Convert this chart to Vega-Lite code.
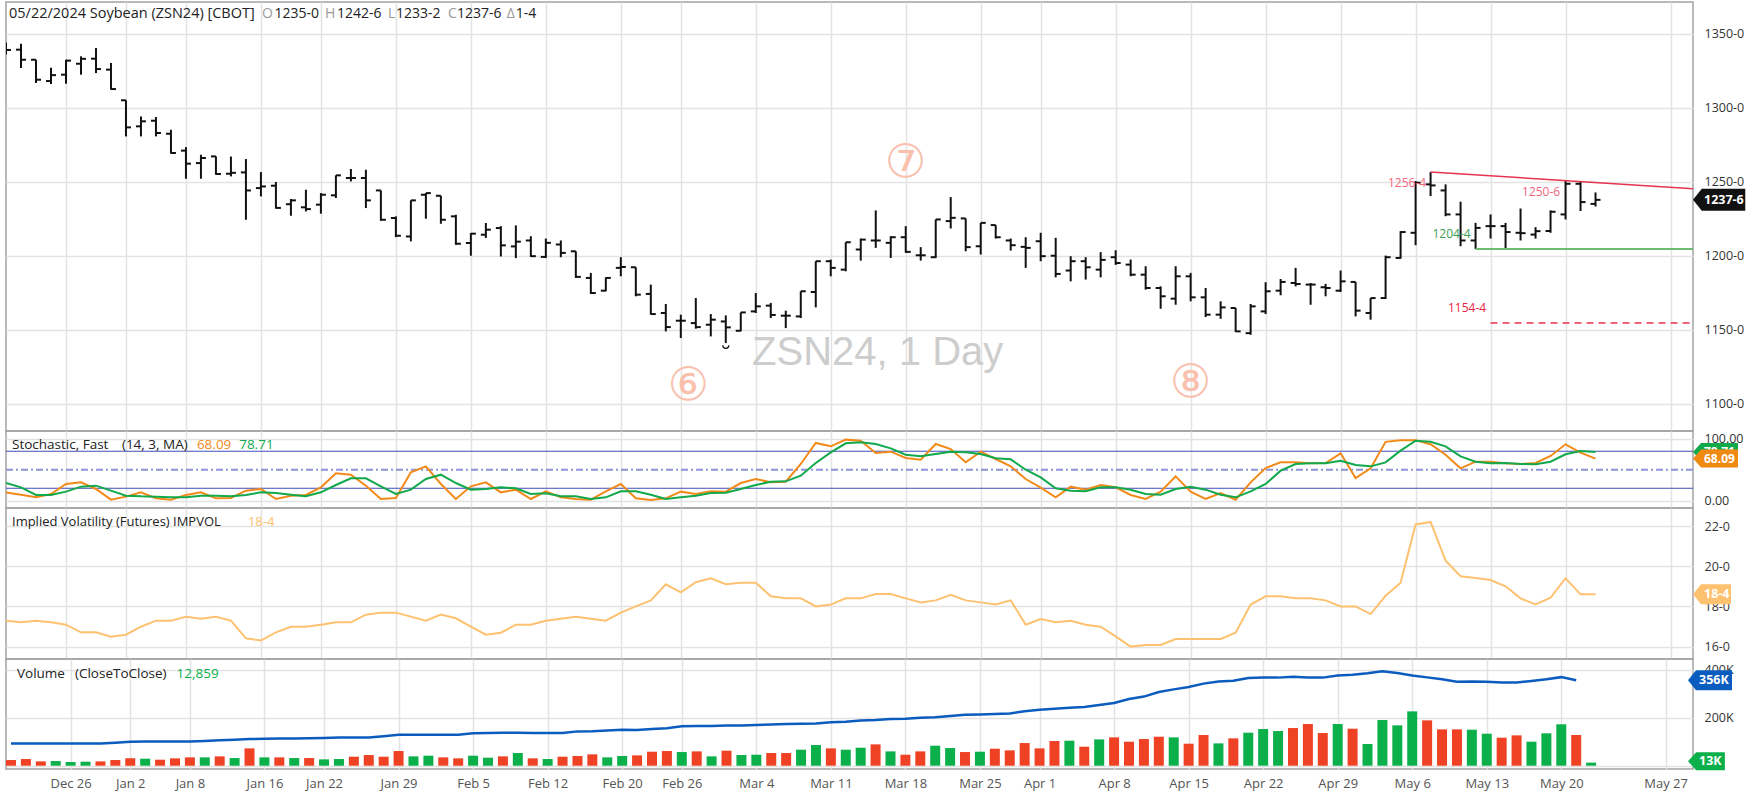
{
"$schema":"https://vega.github.io/schema/vega-lite/v6.json",
"padding":{"left":4,"top":1,"right":0,"bottom":0},
"bounds":"flush",
"spacing":0,
"resolve":{"scale":{"x":"independent","y":"independent"}},
"config":{"view":{"stroke":"#a3a3a3","strokeWidth":1.5},"axis":{"gridColor":"#e3e3e3","gridWidth":1.5,"labelFont":"Open Sans","labelFontSize":12.5,"labelColor":"#333"},"text":{"font":"Open Sans"}},
"data":{"values":[
{"i":0,"date":"2023-12-19","o":1341,"h":1344,"l":1336,"c":1339,"pk":13.3,"pd":28.5,"iv":17.29,"vol":23.6,"oi":93,"dir":"down"},
{"i":1,"date":"2023-12-20","o":1339.2,"h":1343.2,"l":1326.8,"c":1332.4,"pk":9.6,"pd":21.5,"iv":17.21,"vol":27.8,"oi":93,"dir":"down"},
{"i":2,"date":"2023-12-21","o":1332.4,"h":1332.4,"l":1316.7,"c":1318.9,"pk":5.3,"pd":9.1,"iv":17.29,"vol":18,"oi":93,"dir":"down"},
{"i":3,"date":"2023-12-22","o":1318,"h":1327,"l":1316,"c":1322,"pk":10.7,"pd":9.1,"iv":17.21,"vol":19.4,"oi":93,"dir":"up"},
{"i":4,"date":"2023-12-26","o":1322.3,"h":1332.4,"l":1316.2,"c":1331.8,"pk":26.9,"pd":14.5,"iv":17.09,"vol":15.3,"oi":93,"dir":"up"},
{"i":5,"date":"2023-12-27","o":1329.7,"h":1334.7,"l":1322.3,"c":1333,"pk":29.6,"pd":22.6,"iv":16.71,"vol":16.7,"oi":93,"dir":"up"},
{"i":6,"date":"2023-12-28","o":1333.1,"h":1340.3,"l":1323.4,"c":1326.1,"pk":18.8,"pd":24.2,"iv":16.71,"vol":18,"oi":93,"dir":"down"},
{"i":7,"date":"2023-12-29","o":1325.7,"h":1330.2,"l":1312.2,"c":1312.6,"pk":1.5,"pd":16.1,"iv":16.49,"vol":23.6,"oi":96,"dir":"down"},
{"i":8,"date":"2024-01-02","o":1305,"h":1305,"l":1280.6,"c":1286.7,"pk":6.4,"pd":8,"iv":16.59,"vol":30.6,"oi":100,"dir":"down"},
{"i":9,"date":"2024-01-03","o":1287.4,"h":1294.1,"l":1280.6,"c":1290.8,"pk":13.4,"pd":6.9,"iv":16.99,"vol":29.2,"oi":101,"dir":"up"},
{"i":10,"date":"2024-01-04","o":1291.2,"h":1293.7,"l":1280.6,"c":1282.9,"pk":3.7,"pd":6.4,"iv":17.29,"vol":25,"oi":101,"dir":"down"},
{"i":11,"date":"2024-01-05","o":1282.4,"h":1285.1,"l":1269,"c":1269.4,"pk":1.5,"pd":5.3,"iv":17.29,"vol":30.6,"oi":101,"dir":"down"},
{"i":12,"date":"2024-01-08","o":1271,"h":1273.4,"l":1252,"c":1262.2,"pk":9.1,"pd":5.3,"iv":17.49,"vol":34.7,"oi":101,"dir":"down"},
{"i":13,"date":"2024-01-09","o":1262.6,"h":1268.2,"l":1252,"c":1266,"pk":13.4,"pd":8,"iv":17.39,"vol":34.7,"oi":103,"dir":"up"},
{"i":14,"date":"2024-01-10","o":1267.1,"h":1267.1,"l":1254.7,"c":1255.2,"pk":3.7,"pd":8,"iv":17.49,"vol":38.9,"oi":106,"dir":"down"},
{"i":15,"date":"2024-01-11","o":1255.4,"h":1267,"l":1253.6,"c":1256,"pk":4.2,"pd":6.9,"iv":17.29,"vol":31.9,"oi":108,"dir":"up"},
{"i":16,"date":"2024-01-12","o":1256.3,"h":1265.3,"l":1224.3,"c":1244.1,"pk":16.1,"pd":9.1,"iv":16.41,"vol":72.2,"oi":111,"dir":"down"},
{"i":17,"date":"2024-01-16","o":1245.7,"h":1256.5,"l":1240.1,"c":1246.8,"pk":18.8,"pd":13.4,"iv":16.3,"vol":34.7,"oi":112,"dir":"up"},
{"i":18,"date":"2024-01-17","o":1247.3,"h":1249.8,"l":1231.8,"c":1232.3,"pk":2.6,"pd":12.3,"iv":16.71,"vol":34.7,"oi":113,"dir":"down"},
{"i":19,"date":"2024-01-18","o":1234.8,"h":1238.3,"l":1227,"c":1237.4,"pk":8,"pd":9.6,"iv":16.99,"vol":31.9,"oi":113,"dir":"up"},
{"i":20,"date":"2024-01-19","o":1232.7,"h":1244.6,"l":1229.9,"c":1231.5,"pk":9.1,"pd":6.9,"iv":16.99,"vol":31.9,"oi":114,"dir":"down"},
{"i":21,"date":"2024-01-22","o":1234.5,"h":1242.3,"l":1228.4,"c":1241.2,"pk":21.5,"pd":13.4,"iv":17.09,"vol":26.4,"oi":115,"dir":"up"},
{"i":22,"date":"2024-01-23","o":1240.8,"h":1254.3,"l":1239,"c":1254.3,"pk":44.2,"pd":25.3,"iv":17.21,"vol":27.8,"oi":117,"dir":"up"},
{"i":23,"date":"2024-01-24","o":1252.5,"h":1258.6,"l":1250.2,"c":1252.5,"pk":42,"pd":36.1,"iv":17.21,"vol":37.5,"oi":118,"dir":"down"},
{"i":24,"date":"2024-01-25","o":1252.5,"h":1258.1,"l":1232.2,"c":1237.4,"pk":24.2,"pd":36.1,"iv":17.59,"vol":44.4,"oi":118,"dir":"down"},
{"i":25,"date":"2024-01-26","o":1244.1,"h":1244.1,"l":1223.6,"c":1224.3,"pk":2.6,"pd":23.1,"iv":17.69,"vol":37.5,"oi":123,"dir":"down"},
{"i":26,"date":"2024-01-29","o":1225.5,"h":1226.6,"l":1212.6,"c":1213.5,"pk":4.2,"pd":10.7,"iv":17.69,"vol":61.1,"oi":129,"dir":"down"},
{"i":27,"date":"2024-01-30","o":1213,"h":1237.4,"l":1209.7,"c":1237.4,"pk":45.8,"pd":17.7,"iv":17.49,"vol":38.9,"oi":129,"dir":"up"},
{"i":28,"date":"2024-01-31","o":1241.2,"h":1242.3,"l":1225,"c":1242.3,"pk":55.5,"pd":35,"iv":17.29,"vol":41.7,"oi":129,"dir":"up"},
{"i":29,"date":"2024-02-01","o":1240.5,"h":1240.5,"l":1221.6,"c":1224.3,"pk":26.9,"pd":42,"iv":17.59,"vol":34.7,"oi":129,"dir":"down"},
{"i":30,"date":"2024-02-02","o":1226.6,"h":1227.7,"l":1207.4,"c":1208.1,"pk":2.6,"pd":28.5,"iv":17.41,"vol":30.6,"oi":129,"dir":"down"},
{"i":31,"date":"2024-02-05","o":1208.6,"h":1215.3,"l":1200,"c":1214.9,"pk":23.1,"pd":17.7,"iv":16.99,"vol":41.7,"oi":135,"dir":"up"},
{"i":32,"date":"2024-02-06","o":1214.2,"h":1222.1,"l":1212,"c":1217.6,"pk":29.6,"pd":18.8,"iv":16.59,"vol":33.3,"oi":136,"dir":"up"},
{"i":33,"date":"2024-02-07","o":1218.7,"h":1220,"l":1199.5,"c":1207,"pk":13.4,"pd":21.5,"iv":16.69,"vol":38.9,"oi":137,"dir":"down"},
{"i":34,"date":"2024-02-08","o":1206.3,"h":1220.5,"l":1198.4,"c":1209.5,"pk":17.7,"pd":19.9,"iv":17.09,"vol":52.8,"oi":137,"dir":"up"},
{"i":35,"date":"2024-02-09","o":1210.3,"h":1213.2,"l":1199.2,"c":1199.7,"pk":2.6,"pd":10.6,"iv":17.09,"vol":30.6,"oi":136,"dir":"down"},
{"i":36,"date":"2024-02-12","o":1199.2,"h":1211.6,"l":1198.5,"c":1208.7,"pk":15,"pd":11.8,"iv":17.29,"vol":27.8,"oi":136,"dir":"up"},
{"i":37,"date":"2024-02-13","o":1207.6,"h":1210.3,"l":1199,"c":1201.9,"pk":5.3,"pd":6.9,"iv":17.39,"vol":37.5,"oi":136,"dir":"down"},
{"i":38,"date":"2024-02-14","o":1203,"h":1203,"l":1185,"c":1185.7,"pk":2.6,"pd":6.9,"iv":17.49,"vol":40.3,"oi":143,"dir":"down"},
{"i":39,"date":"2024-02-15","o":1185,"h":1188.4,"l":1174.2,"c":1174.8,"pk":1.5,"pd":2.6,"iv":17.39,"vol":47.2,"oi":144,"dir":"down"},
{"i":40,"date":"2024-02-16","o":1176.4,"h":1185.4,"l":1176,"c":1185,"pk":15,"pd":5.3,"iv":17.29,"vol":34.7,"oi":147,"dir":"up"},
{"i":41,"date":"2024-02-20","o":1191.8,"h":1199,"l":1186.1,"c":1192.4,"pk":26.9,"pd":15,"iv":17.69,"vol":40.3,"oi":150,"dir":"up"},
{"i":42,"date":"2024-02-21","o":1192.2,"h":1192.2,"l":1172.6,"c":1173.7,"pk":3.7,"pd":15,"iv":18,"vol":43.1,"oi":149,"dir":"down"},
{"i":43,"date":"2024-02-22","o":1174.2,"h":1180.5,"l":1160.2,"c":1160.6,"pk":1,"pd":9.6,"iv":18.3,"vol":58.3,"oi":153,"dir":"down"},
{"i":44,"date":"2024-02-23","o":1161.3,"h":1167.4,"l":1148.9,"c":1151.8,"pk":3.7,"pd":2.6,"iv":19.1,"vol":61.1,"oi":156,"dir":"down"},
{"i":45,"date":"2024-02-26","o":1156.1,"h":1160.2,"l":1144.4,"c":1156.1,"pk":14.5,"pd":5.3,"iv":18.7,"vol":56.9,"oi":164,"dir":"up"},
{"i":46,"date":"2024-02-27","o":1154.5,"h":1171.4,"l":1150.7,"c":1151.8,"pk":10.7,"pd":8,"iv":19.2,"vol":59.7,"oi":165,"dir":"down"},
{"i":47,"date":"2024-02-28","o":1153.4,"h":1160.6,"l":1145.5,"c":1156.8,"pk":15,"pd":12.3,"iv":19.4,"vol":38.9,"oi":165,"dir":"up"},
{"i":48,"date":"2024-02-29","o":1155.6,"h":1159.7,"l":1141,"c":1151.6,"pk":14.5,"pd":12.9,"iv":19.1,"vol":62.5,"oi":167,"dir":"down"},
{"i":49,"date":"2024-03-01","o":1149.3,"h":1161.7,"l":1149,"c":1161.7,"pk":28.5,"pd":18.8,"iv":19.18,"vol":44.4,"oi":168,"dir":"up"},
{"i":50,"date":"2024-03-04","o":1162.4,"h":1174.8,"l":1161.3,"c":1165.8,"pk":35,"pd":25.3,"iv":19.18,"vol":45.8,"oi":170,"dir":"up"},
{"i":51,"date":"2024-03-05","o":1166.3,"h":1168.1,"l":1157.9,"c":1160,"pk":29.6,"pd":30.7,"iv":18.5,"vol":52.8,"oi":172,"dir":"down"},
{"i":52,"date":"2024-03-06","o":1159.5,"h":1162.9,"l":1151.1,"c":1159.5,"pk":30.7,"pd":31.2,"iv":18.4,"vol":52.8,"oi":174,"dir":"down"},
{"i":53,"date":"2024-03-07","o":1159,"h":1176,"l":1157.9,"c":1176,"pk":59.3,"pd":40.4,"iv":18.4,"vol":66.7,"oi":175,"dir":"up"},
{"i":54,"date":"2024-03-08","o":1175.5,"h":1196.3,"l":1165.1,"c":1196.3,"pk":93.4,"pd":60.9,"iv":18,"vol":86.1,"oi":176,"dir":"up"},
{"i":55,"date":"2024-03-11","o":1196.3,"h":1197.4,"l":1186.1,"c":1191.8,"pk":88,"pd":78.2,"iv":18.09,"vol":72.2,"oi":181,"dir":"down"},
{"i":56,"date":"2024-03-12","o":1190.6,"h":1209.1,"l":1189.5,"c":1209.1,"pk":98.8,"pd":92.8,"iv":18.4,"vol":66.7,"oi":183,"dir":"up"},
{"i":57,"date":"2024-03-13","o":1204.2,"h":1211.6,"l":1196.7,"c":1210.9,"pk":97.1,"pd":94.4,"iv":18.4,"vol":75,"oi":188,"dir":"up"},
{"i":58,"date":"2024-03-14","o":1210.3,"h":1230.6,"l":1205.3,"c":1210.3,"pk":77.1,"pd":91.7,"iv":18.62,"vol":88.9,"oi":190,"dir":"down"},
{"i":59,"date":"2024-03-15","o":1208.7,"h":1213.2,"l":1198.5,"c":1212.5,"pk":79.3,"pd":84.7,"iv":18.62,"vol":59.7,"oi":195,"dir":"up"},
{"i":60,"date":"2024-03-18","o":1212.5,"h":1220,"l":1202,"c":1202.6,"pk":69,"pd":74.4,"iv":18.4,"vol":45.8,"oi":196,"dir":"down"},
{"i":61,"date":"2024-03-19","o":1200.3,"h":1205.8,"l":1196.7,"c":1200.3,"pk":66.3,"pd":71.7,"iv":18.2,"vol":59.7,"oi":200,"dir":"down"},
{"i":62,"date":"2024-03-20","o":1199,"h":1224.5,"l":1198.5,"c":1224.5,"pk":91.7,"pd":75.5,"iv":18.3,"vol":83.3,"oi":202,"dir":"up"},
{"i":63,"date":"2024-03-21","o":1223.4,"h":1239.6,"l":1218.4,"c":1225.6,"pk":83.6,"pd":79.3,"iv":18.58,"vol":73.6,"oi":207,"dir":"up"},
{"i":64,"date":"2024-03-22","o":1225.2,"h":1225.2,"l":1203,"c":1205.8,"pk":62,"pd":78.2,"iv":18.3,"vol":56.9,"oi":212,"dir":"down"},
{"i":65,"date":"2024-03-25","o":1206.4,"h":1222.2,"l":1200.8,"c":1222.2,"pk":79.3,"pd":75.5,"iv":18.2,"vol":58.3,"oi":213,"dir":"up"},
{"i":66,"date":"2024-03-26","o":1220.7,"h":1220.7,"l":1211.6,"c":1212.5,"pk":67.4,"pd":68.5,"iv":18.1,"vol":70.8,"oi":215,"dir":"down"},
{"i":67,"date":"2024-03-27","o":1210.3,"h":1211.6,"l":1203.5,"c":1207.1,"pk":55.5,"pd":66.9,"iv":18.3,"vol":63.9,"oi":218,"dir":"down"},
{"i":68,"date":"2024-03-28","o":1206,"h":1212.5,"l":1191.8,"c":1205.3,"pk":35,"pd":50,"iv":17.09,"vol":94.4,"oi":227,"dir":"down"},
{"i":69,"date":"2024-04-01","o":1209.8,"h":1215.5,"l":1196.3,"c":1199.7,"pk":20.9,"pd":37.7,"iv":17.37,"vol":72.2,"oi":233,"dir":"down"},
{"i":70,"date":"2024-04-02","o":1200,"h":1212.1,"l":1185.4,"c":1187.7,"pk":5.3,"pd":19.9,"iv":17.21,"vol":102.8,"oi":237,"dir":"down"},
{"i":71,"date":"2024-04-03","o":1190,"h":1199.7,"l":1182.7,"c":1196.3,"pk":22.6,"pd":16.1,"iv":17.29,"vol":104.2,"oi":241,"dir":"up"},
{"i":72,"date":"2024-04-04","o":1196.3,"h":1199,"l":1183.9,"c":1192.2,"pk":17.7,"pd":15,"iv":17.09,"vol":79.2,"oi":245,"dir":"down"},
{"i":73,"date":"2024-04-05","o":1190.6,"h":1202.4,"l":1185.4,"c":1197.2,"pk":25.3,"pd":21.5,"iv":16.99,"vol":109.7,"oi":253,"dir":"up"},
{"i":74,"date":"2024-04-08","o":1199,"h":1203.7,"l":1193.8,"c":1195.1,"pk":21.5,"pd":21.5,"iv":16.51,"vol":118.1,"oi":261,"dir":"down"},
{"i":75,"date":"2024-04-09","o":1194,"h":1197.4,"l":1186.1,"c":1187.2,"pk":9.1,"pd":17.7,"iv":16,"vol":100,"oi":278,"dir":"down"},
{"i":76,"date":"2024-04-10","o":1187.2,"h":1192.9,"l":1177.1,"c":1178.2,"pk":2.6,"pd":10.7,"iv":16.08,"vol":111.1,"oi":288,"dir":"down"},
{"i":77,"date":"2024-04-11","o":1178.2,"h":1179.3,"l":1164.2,"c":1172.6,"pk":14.5,"pd":9.6,"iv":16.08,"vol":120.8,"oi":307,"dir":"down"},
{"i":78,"date":"2024-04-12","o":1171,"h":1192.9,"l":1166.9,"c":1186.1,"pk":39.3,"pd":18.8,"iv":16.38,"vol":118.1,"oi":318,"dir":"up"},
{"i":79,"date":"2024-04-15","o":1186.1,"h":1188.4,"l":1169.2,"c":1171.9,"pk":14.5,"pd":22.6,"iv":16.38,"vol":91.7,"oi":328,"dir":"down"},
{"i":80,"date":"2024-04-16","o":1171.9,"h":1178.2,"l":1158.6,"c":1160.2,"pk":2.6,"pd":17.7,"iv":16.38,"vol":127.8,"oi":342,"dir":"down"},
{"i":81,"date":"2024-04-17","o":1160.2,"h":1169.2,"l":1157.4,"c":1165.1,"pk":12.3,"pd":9.6,"iv":16.38,"vol":93.1,"oi":351,"dir":"up"},
{"i":82,"date":"2024-04-18","o":1164.7,"h":1164.7,"l":1148.5,"c":1148.9,"pk":1.5,"pd":5.3,"iv":16.69,"vol":113.9,"oi":354,"dir":"down"},
{"i":83,"date":"2024-04-19","o":1147.7,"h":1167.4,"l":1146.6,"c":1165.8,"pk":29.6,"pd":15,"iv":18.09,"vol":137.5,"oi":365,"dir":"up"},
{"i":84,"date":"2024-04-22","o":1162.4,"h":1182.1,"l":1160.6,"c":1176,"pk":52.8,"pd":26.9,"iv":18.5,"vol":152.8,"oi":368,"dir":"up"},
{"i":85,"date":"2024-04-23","o":1176.4,"h":1184.3,"l":1173.3,"c":1182.3,"pk":62,"pd":48.5,"iv":18.5,"vol":144.4,"oi":367,"dir":"up"},
{"i":86,"date":"2024-04-24","o":1181.6,"h":1191.8,"l":1179.3,"c":1180.9,"pk":62,"pd":59.3,"iv":18.4,"vol":156.9,"oi":371,"dir":"down"},
{"i":87,"date":"2024-04-25","o":1180.5,"h":1181.6,"l":1166.9,"c":1180.5,"pk":60.4,"pd":60.4,"iv":18.4,"vol":173.6,"oi":368,"dir":"down"},
{"i":88,"date":"2024-04-26","o":1178.7,"h":1181,"l":1172.6,"c":1178.2,"pk":60.9,"pd":60.4,"iv":18.3,"vol":136.1,"oi":367,"dir":"down"},
{"i":89,"date":"2024-04-29","o":1176.4,"h":1190,"l":1175.5,"c":1182.7,"pk":76.6,"pd":64.7,"iv":18,"vol":173.6,"oi":376,"dir":"up"},
{"i":90,"date":"2024-04-30","o":1182.3,"h":1182.3,"l":1159,"c":1162.9,"pk":36.6,"pd":57.7,"iv":18,"vol":154.2,"oi":379,"dir":"down"},
{"i":91,"date":"2024-05-01","o":1161.3,"h":1171.4,"l":1156.8,"c":1171.4,"pk":52.3,"pd":55.5,"iv":17.62,"vol":90.3,"oi":385,"dir":"up"},
{"i":92,"date":"2024-05-02","o":1171.4,"h":1200.1,"l":1170.8,"c":1199,"pk":95.2,"pd":62,"iv":18.53,"vol":190.3,"oi":394,"dir":"up"},
{"i":93,"date":"2024-05-03","o":1198.5,"h":1216.6,"l":1198,"c":1216,"pk":97.9,"pd":80.9,"iv":19.18,"vol":168.1,"oi":386,"dir":"up"},
{"i":94,"date":"2024-05-06","o":1215.5,"h":1250.5,"l":1207.1,"c":1249.3,"pk":97.9,"pd":97.1,"iv":22.08,"vol":226.4,"oi":376,"dir":"up"},
{"i":95,"date":"2024-05-07","o":1248.2,"h":1256.5,"l":1240.3,"c":1247.5,"pk":91.4,"pd":95.5,"iv":22.2,"vol":188.9,"oi":368,"dir":"down"},
{"i":96,"date":"2024-05-08","o":1244.1,"h":1248.2,"l":1226.7,"c":1227.9,"pk":74.4,"pd":87.9,"iv":20.28,"vol":151.4,"oi":360,"dir":"down"},
{"i":97,"date":"2024-05-09","o":1227.9,"h":1236.5,"l":1206.4,"c":1210.3,"pk":52.3,"pd":71.7,"iv":19.5,"vol":151.4,"oi":350,"dir":"down"},
{"i":98,"date":"2024-05-10","o":1210.3,"h":1222.2,"l":1204.5,"c":1218.8,"pk":63.1,"pd":63.1,"iv":19.41,"vol":150,"oi":351,"dir":"up"},
{"i":99,"date":"2024-05-13","o":1220,"h":1227.9,"l":1211.6,"c":1220,"pk":63.1,"pd":60.4,"iv":19.31,"vol":133.3,"oi":350,"dir":"up"},
{"i":100,"date":"2024-05-14","o":1220,"h":1222.2,"l":1204.5,"c":1216,"pk":60.4,"pd":60.9,"iv":19,"vol":116.7,"oi":347,"dir":"down"},
{"i":101,"date":"2024-05-15","o":1215.5,"h":1231.9,"l":1210.3,"c":1215.25,"pk":59.3,"pd":59.3,"iv":18.4,"vol":126.4,"oi":347,"dir":"down"},
{"i":102,"date":"2024-05-16","o":1214.3,"h":1219.3,"l":1211.6,"c":1216.6,"pk":61,"pd":59,"iv":18.1,"vol":100,"oi":353,"dir":"up"},
{"i":103,"date":"2024-05-17","o":1216.7,"h":1230.6,"l":1215.5,"c":1229.7,"pk":72.3,"pd":63.1,"iv":18.43,"vol":135,"oi":360,"dir":"up"},
{"i":104,"date":"2024-05-20","o":1227.9,"h":1250.75,"l":1224.5,"c":1248.6,"pk":91.2,"pd":75,"iv":19.4,"vol":172.5,"oi":369,"dir":"up"},
{"i":105,"date":"2024-05-21","o":1248.6,"h":1250,"l":1230.2,"c":1236.25,"pk":77.7,"pd":80.4,"iv":18.6,"vol":127.9,"oi":356,"dir":"down"},
{"i":106,"date":"2024-05-22","o":1235,"h":1242.75,"l":1233.25,"c":1237.75,"pk":68.09,"pd":78.71,"iv":18.6,"vol":12.859,"oi":null,"dir":"up"}
]},
"vconcat":[
{"width":1687,"height":429,
 "layer":[
  {"mark":{"type":"rule","color":"#111","strokeWidth":2,"clip":true},
   "encoding":{"x":{"field":"i","type":"quantitative","title":null,"scale":{"domain":[0,112.5],"nice":false,"zero":false},"axis":{"values":[4,8,12,17,21,26,31,36,41,45,50,55,60,65,69,74,79,84,89,94,99,104,111],"labels":false,"ticks":false,"domain":false,"grid":true,"title":null}},
    "y":{"field":"l","type":"quantitative","title":null,"scale":{"domain":[1081.6,1371.4],"nice":false,"zero":false},"axis":{"orient":"right","values":[1100,1150,1200,1250,1300,1350],"labelExpr":"datum.value + '-0'","ticks":false,"domain":false,"grid":true,"title":null,"labelPadding":11}},
    "y2":{"field":"h"}}},
  {"mark":{"type":"point","shape":"M-1,0L0,0","size":100,"filled":false,"color":"#111","strokeWidth":2,"opacity":1,"clip":true},
   "encoding":{"x":{"field":"i","type":"quantitative","title":null},"y":{"field":"o","type":"quantitative","title":null}}},
  {"mark":{"type":"point","shape":"M0,0L1,0","size":100,"filled":false,"color":"#111","strokeWidth":2,"opacity":1,"clip":true},
   "encoding":{"x":{"field":"i","type":"quantitative","title":null},"y":{"field":"c","type":"quantitative","title":null}}},
  {"data":{"values":[{}]},"mark":{"type":"point","shape":"M-1,0A1,1,0,0,0,1,0","size":36,"filled":false,"color":"#111","strokeWidth":1.3,"opacity":1},
   "encoding":{"x":{"datum":48},"y":{"datum":1139.5}}},
  {"data":{"values":[{}]},"mark":{"type":"rule","color":"#e8334f","strokeWidth":1.5},
   "encoding":{"x":{"datum":95},"x2":{"datum":112.5},"y":{"datum":1256.5},"y2":{"datum":1245.3}}},
  {"data":{"values":[{}]},"mark":{"type":"rule","color":"#6dbb73","strokeWidth":2},
   "encoding":{"x":{"datum":98},"x2":{"datum":112.5},"y":{"datum":1204.5}}},
  {"data":{"values":[{}]},"mark":{"type":"rule","color":"#e8334f","strokeWidth":1.5,"strokeDash":[7,5]},
   "encoding":{"x":{"datum":99},"x2":{"datum":112.5},"y":{"datum":1154.5}}},
  {"data":{"values":[{}]},"mark":{"type":"text","text":"1256-4","color":"#f2667e","fontSize":12,"align":"center","baseline":"middle"},
   "encoding":{"x":{"datum":93.43},"y":{"datum":1248.9}}},
  {"data":{"values":[{}]},"mark":{"type":"text","text":"1250-6","color":"#f2667e","fontSize":12,"align":"center","baseline":"middle"},
   "encoding":{"x":{"datum":102.37},"y":{"datum":1243.2}}},
  {"data":{"values":[{}]},"mark":{"type":"text","text":"1204-4","color":"#3d9e4f","fontSize":12,"align":"center","baseline":"middle"},
   "encoding":{"x":{"datum":96.4},"y":{"datum":1214.5}}},
  {"data":{"values":[{}]},"mark":{"type":"text","text":"1154-4","color":"#e8233f","fontSize":12,"align":"center","baseline":"middle"},
   "encoding":{"x":{"datum":97.43},"y":{"datum":1164.5}}},
  {"data":{"values":[{}]},"mark":{"type":"text","text":"⑥","font":"DejaVu Sans","color":"#f9c0ad","fontSize":46,"align":"center","baseline":"middle"},
   "encoding":{"x":{"datum":45.5},"y":{"datum":1112}}},
  {"data":{"values":[{}]},"mark":{"type":"text","text":"⑦","font":"DejaVu Sans","color":"#f9c0ad","fontSize":46,"align":"center","baseline":"middle"},
   "encoding":{"x":{"datum":60},"y":{"datum":1262.9}}},
  {"data":{"values":[{}]},"mark":{"type":"text","text":"⑧","font":"DejaVu Sans","color":"#f9c0ad","fontSize":46,"align":"center","baseline":"middle"},
   "encoding":{"x":{"datum":79},"y":{"datum":1114}}},
  {"data":{"values":[{}]},"mark":{"type":"text","text":"ZSN24, 1 Day","font":"Liberation Sans","color":"#cdcdcd","fontSize":40,"align":"center","baseline":"middle"},
   "encoding":{"x":{"datum":58.13},"y":{"datum":1134.3}}},
  {"data":{"values":[{}]},"mark":{"type":"text","text":"05/22/2024 Soybean (ZSN24) [CBOT]","color":"#222","fontSize":14.5,"align":"left","baseline":"middle"},
   "encoding":{"x":{"datum":0.2},"y":{"datum":1363.3}}},
  {"data":{"values":[{}]},"mark":{"type":"text","text":"O","color":"#9a9a9a","fontSize":14,"align":"left","baseline":"middle"},
   "encoding":{"x":{"datum":17.07},"y":{"datum":1363.3}}},
  {"data":{"values":[{}]},"mark":{"type":"text","text":"1235-0","color":"#222","fontSize":14,"align":"left","baseline":"middle"},
   "encoding":{"x":{"datum":17.9},"y":{"datum":1363.3}}},
  {"data":{"values":[{}]},"mark":{"type":"text","text":"H","color":"#9a9a9a","fontSize":14,"align":"left","baseline":"middle"},
   "encoding":{"x":{"datum":21.27},"y":{"datum":1363.3}}},
  {"data":{"values":[{}]},"mark":{"type":"text","text":"1242-6","color":"#222","fontSize":14,"align":"left","baseline":"middle"},
   "encoding":{"x":{"datum":22.07},"y":{"datum":1363.3}}},
  {"data":{"values":[{}]},"mark":{"type":"text","text":"L","color":"#9a9a9a","fontSize":14,"align":"left","baseline":"middle"},
   "encoding":{"x":{"datum":25.47},"y":{"datum":1363.3}}},
  {"data":{"values":[{}]},"mark":{"type":"text","text":"1233-2","color":"#222","fontSize":14,"align":"left","baseline":"middle"},
   "encoding":{"x":{"datum":26.0},"y":{"datum":1363.3}}},
  {"data":{"values":[{}]},"mark":{"type":"text","text":"C","color":"#9a9a9a","fontSize":14,"align":"left","baseline":"middle"},
   "encoding":{"x":{"datum":29.47},"y":{"datum":1363.3}}},
  {"data":{"values":[{}]},"mark":{"type":"text","text":"1237-6","color":"#222","fontSize":14,"align":"left","baseline":"middle"},
   "encoding":{"x":{"datum":30.07},"y":{"datum":1363.3}}},
  {"data":{"values":[{}]},"mark":{"type":"text","text":"Δ","color":"#9a9a9a","fontSize":14,"align":"left","baseline":"middle"},
   "encoding":{"x":{"datum":33.4},"y":{"datum":1363.3}}},
  {"data":{"values":[{}]},"mark":{"type":"text","text":"1-4","color":"#222","fontSize":14,"align":"left","baseline":"middle"},
   "encoding":{"x":{"datum":34.0},"y":{"datum":1363.3}}},
  {"data":{"values":[{}]},"mark":{"type":"point","shape":"M0,0L0.8,-1L4.75,-1L4.75,1L0.8,1Z","size":484,"filled":true,"color":"#111","opacity":1,"strokeWidth":0},
   "encoding":{"x":{"datum":112.5},"y":{"datum":1237.75}}},
  {"data":{"values":[{}]},"mark":{"type":"text","text":"1237-6","color":"#ffffff","fontWeight":"bold","fontSize":12.5,"align":"left","baseline":"middle","dx":11},
   "encoding":{"x":{"datum":112.5},"y":{"datum":1237.75}}}
 ]},
{"width":1687,"height":77,
 "layer":[
  {"data":{"values":[{}]},"mark":{"type":"rule","color":"#3f4fb8","strokeWidth":1},"encoding":{"y":{"datum":80}}},
  {"data":{"values":[{}]},"mark":{"type":"rule","color":"#3f4fb8","strokeWidth":1},"encoding":{"y":{"datum":20}}},
  {"data":{"values":[{}]},"mark":{"type":"rule","color":"#8b93d4","strokeWidth":2,"strokeDash":[7,3,2,3]},"encoding":{"y":{"datum":50}}},
  {"mark":{"type":"line","color":"#f28a1a","strokeWidth":2,"clip":true},
   "encoding":{"x":{"field":"i","type":"quantitative","title":null,"scale":{"domain":[0,112.5],"nice":false,"zero":false},"axis":{"values":[4,8,12,17,21,26,31,36,41,45,50,55,60,65,69,74,79,84,89,94,99,104,111],"labels":false,"ticks":false,"domain":false,"grid":true,"title":null}},
    "y":{"field":"pk","type":"quantitative","title":null,"scale":{"domain":[-12,112.8],"nice":false,"zero":false},"axis":{"orient":"right","values":[0,50,100],"format":".2f","ticks":false,"domain":false,"grid":true,"title":null,"labelPadding":11}}}},
  {"mark":{"type":"line","color":"#12a84c","strokeWidth":2,"clip":true},
   "encoding":{"x":{"field":"i","type":"quantitative","title":null},"y":{"field":"pd","type":"quantitative","title":null}}},
  {"data":{"values":[{}]},"mark":{"type":"text","text":"Stochastic, Fast","color":"#222","fontSize":13.5,"align":"left","baseline":"middle"},
   "encoding":{"x":{"datum":0.4},"y":{"datum":90.6}}},
  {"data":{"values":[{}]},"mark":{"type":"text","text":"(14, 3, MA)","color":"#222","fontSize":13.5,"align":"left","baseline":"middle"},
   "encoding":{"x":{"datum":7.73},"y":{"datum":90.6}}},
  {"data":{"values":[{}]},"mark":{"type":"text","text":"68.09","color":"#f28a1a","fontSize":13.5,"align":"left","baseline":"middle"},
   "encoding":{"x":{"datum":12.73},"y":{"datum":90.6}}},
  {"data":{"values":[{}]},"mark":{"type":"text","text":"78.71","color":"#12a84c","fontSize":13.5,"align":"left","baseline":"middle"},
   "encoding":{"x":{"datum":15.55},"y":{"datum":90.6}}},
  {"data":{"values":[{}]},"mark":{"type":"point","shape":"M0,0L0.9,-1L5,-1L5,1L0.9,1Z","size":324,"filled":true,"color":"#12a84c","opacity":1,"strokeWidth":0},
   "encoding":{"x":{"datum":112.5},"y":{"datum":78.71}}},
  {"data":{"values":[{}]},"mark":{"type":"text","text":"78.71","color":"#ffffff","fontWeight":"bold","fontSize":12,"align":"left","baseline":"middle","dx":11},
   "encoding":{"x":{"datum":112.5},"y":{"datum":78.71}}},
  {"data":{"values":[{}]},"mark":{"type":"point","shape":"M0,0L0.9,-1L5,-1L5,1L0.9,1Z","size":324,"filled":true,"color":"#f08a12","opacity":1,"strokeWidth":0},
   "encoding":{"x":{"datum":112.5},"y":{"datum":68.09}}},
  {"data":{"values":[{}]},"mark":{"type":"text","text":"68.09","color":"#ffffff","fontWeight":"bold","fontSize":12,"align":"left","baseline":"middle","dx":11},
   "encoding":{"x":{"datum":112.5},"y":{"datum":68.09}}}
 ]},
{"width":1687,"height":151,
 "layer":[
  {"mark":{"type":"line","color":"#fec170","strokeWidth":2,"clip":true},
   "encoding":{"x":{"field":"i","type":"quantitative","title":null,"scale":{"domain":[0,112.5],"nice":false,"zero":false},"axis":{"values":[4,8,12,17,21,26,31,36,41,45,50,55,60,65,69,74,79,84,89,94,99,104,111],"labels":false,"ticks":false,"domain":false,"grid":true,"title":null}},
    "y":{"field":"iv","type":"quantitative","title":null,"scale":{"domain":[15.383,22.896],"nice":false,"zero":false},"axis":{"orient":"right","values":[16,18,20,22],"labelExpr":"datum.value + '-0'","ticks":false,"domain":false,"grid":true,"title":null,"labelPadding":11}}}},
  {"data":{"values":[{}]},"mark":{"type":"text","text":"Implied Volatility (Futures) IMPVOL","color":"#222","fontSize":13,"align":"left","baseline":"middle"},
   "encoding":{"x":{"datum":0.4},"y":{"datum":22.21}}},
  {"data":{"values":[{}]},"mark":{"type":"text","text":"18-4","color":"#fec170","fontSize":13,"align":"left","baseline":"middle"},
   "encoding":{"x":{"datum":16.13},"y":{"datum":22.21}}},
  {"data":{"values":[{}]},"mark":{"type":"point","shape":"M0,0L0.8,-1L3.8,-1L3.8,1L0.8,1Z","size":400,"filled":true,"color":"#fec170","opacity":1,"strokeWidth":0},
   "encoding":{"x":{"datum":112.5},"y":{"datum":18.6}}},
  {"data":{"values":[{}]},"mark":{"type":"text","text":"18-4","color":"#ffffff","fontWeight":"bold","fontSize":12.5,"align":"left","baseline":"middle","dx":11},
   "encoding":{"x":{"datum":112.5},"y":{"datum":18.6}}}
 ]},
{"width":1687,"height":110,
 "layer":[
  {"mark":{"type":"bar","size":10,"clip":true,"orient":"vertical"},
   "encoding":{"x":{"field":"i","type":"quantitative","title":null,"scale":{"domain":[0,112.5],"nice":false,"zero":false},"axis":{"values":[4,8,12,17,21,26,31,36,41,45,50,55,60,65,69,74,79,84,89,94,99,104,111],"labels":true,"labelExpr":"['Dec 26','Jan 2','Jan 8','Jan 16','Jan 22','Jan 29','Feb 5','Feb 12','Feb 20','Feb 26','Mar 4','Mar 11','Mar 18','Mar 25','Apr 1','Apr 8','Apr 15','Apr 22','Apr 29','May 6','May 13','May 20','May 27'][indexof([4,8,12,17,21,26,31,36,41,45,50,55,60,65,69,74,79,84,89,94,99,104,111], datum.value)]","labelColor":"#555","labelFontSize":13,"labelPadding":8,"labelFlush":false,"labelOverlap":false,"ticks":false,"domain":false,"grid":true,"title":null}},
    "y":{"field":"vol","type":"quantitative","title":null,"scale":{"domain":[-13.75,444.6],"nice":false,"zero":false},"axis":{"orient":"right","values":[0,200,400],"labelExpr":"datum.value == 0 ? '' : datum.value + 'K'","ticks":false,"domain":false,"grid":true,"title":null,"labelPadding":11}},
    "color":{"field":"dir","type":"nominal","scale":{"domain":["up","down"],"range":["#0bb04b","#ef4123"]},"legend":null}}},
  {"mark":{"type":"line","color":"#0b5cbf","strokeWidth":2.5,"clip":true},
   "encoding":{"x":{"field":"i","type":"quantitative","title":null},"y":{"field":"oi","type":"quantitative","title":null}}},
  {"data":{"values":[{}]},"mark":{"type":"text","text":"Volume","color":"#222","fontSize":13.5,"align":"left","baseline":"middle"},
   "encoding":{"x":{"datum":0.4},"y":{"datum":382}}},
  {"data":{"values":[{}]},"mark":{"type":"text","text":"(CloseToClose)","color":"#222","fontSize":13.5,"align":"left","baseline":"middle"},
   "encoding":{"x":{"datum":4.29},"y":{"datum":382}}},
  {"data":{"values":[{}]},"mark":{"type":"text","text":"12,859","color":"#0bb04b","fontSize":13.5,"align":"left","baseline":"middle"},
   "encoding":{"x":{"datum":11.11},"y":{"datum":382}}},
  {"data":{"values":[{}]},"mark":{"type":"point","shape":"M0,0L0.8,-1L4.4,-1L4.4,1L0.8,1Z","size":400,"filled":true,"color":"#0b5cbf","opacity":1,"strokeWidth":0},
   "encoding":{"x":{"datum":112.5},"y":{"datum":356}}},
  {"data":{"values":[{}]},"mark":{"type":"text","text":"356K","color":"#ffffff","fontWeight":"bold","fontSize":12.5,"align":"left","baseline":"middle","dx":11},
   "encoding":{"x":{"datum":112.5},"y":{"datum":356}}},
  {"data":{"values":[{}]},"mark":{"type":"point","shape":"M0,0L0.9,-1L4.1,-1L4.1,1L0.9,1Z","size":324,"filled":true,"color":"#0bb04b","opacity":1,"strokeWidth":0},
   "encoding":{"x":{"datum":112.5},"y":{"datum":19}}},
  {"data":{"values":[{}]},"mark":{"type":"text","text":"13K","color":"#ffffff","fontWeight":"bold","fontSize":12.5,"align":"left","baseline":"middle","dx":11},
   "encoding":{"x":{"datum":112.5},"y":{"datum":19}}}
 ]}
]
}
